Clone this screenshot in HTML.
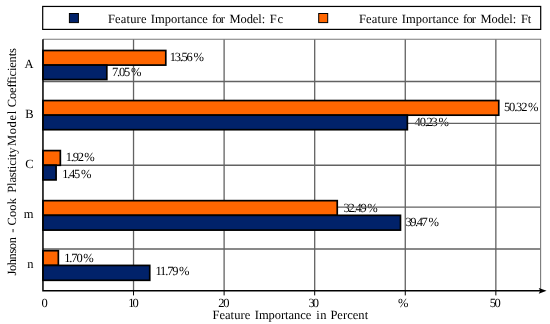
<!DOCTYPE html>
<html><head><meta charset="utf-8"><title>Feature Importance</title>
<style>html,body{margin:0;padding:0;background:#fff}</style></head>
<body>
<svg width="550" height="324" viewBox="0 0 550 324" style="display:block;font-family:'Liberation Serif',serif;font-size:12.5px" text-rendering="geometricPrecision">
<rect width="550" height="324" fill="#fff"/>
<text y="60.60"><tspan x="169.74" letter-spacing="-1.288">13.56</tspan><tspan x="193.52" textLength="10.49" lengthAdjust="spacingAndGlyphs">%</tspan></text>
<text y="75.90"><tspan x="111.89" letter-spacing="-1.175">7.05</tspan><tspan x="130.92" textLength="10.49" lengthAdjust="spacingAndGlyphs">%</tspan></text>
<text y="110.70"><tspan x="503.91" letter-spacing="-1.138">50.32</tspan><tspan x="527.92" textLength="10.49" lengthAdjust="spacingAndGlyphs">%</tspan></text>
<text y="125.60"><tspan x="414.61" letter-spacing="-1.225">40.23</tspan><tspan x="438.52" textLength="10.49" lengthAdjust="spacingAndGlyphs">%</tspan></text>
<text y="161.00"><tspan x="65.74" letter-spacing="-1.242">1.92</tspan><tspan x="84.32" textLength="10.49" lengthAdjust="spacingAndGlyphs">%</tspan></text>
<text y="177.60"><tspan x="62.34" letter-spacing="-1.325">1.45</tspan><tspan x="80.92" textLength="10.49" lengthAdjust="spacingAndGlyphs">%</tspan></text>
<text y="211.70"><tspan x="343.44" letter-spacing="-1.216">32.49</tspan><tspan x="367.32" textLength="10.49" lengthAdjust="spacingAndGlyphs">%</tspan></text>
<text y="226.20"><tspan x="405.44" letter-spacing="-1.462">39.47</tspan><tspan x="428.52" textLength="10.49" lengthAdjust="spacingAndGlyphs">%</tspan></text>
<text y="262.30"><tspan x="64.24" letter-spacing="-1.158">1.70</tspan><tspan x="83.32" textLength="10.49" lengthAdjust="spacingAndGlyphs">%</tspan></text>
<text y="275.00"><tspan x="155.44" letter-spacing="-1.150">11.79</tspan><tspan x="179.12" textLength="10.49" lengthAdjust="spacingAndGlyphs">%</tspan></text>
<line x1="133.53" y1="39.2" x2="133.53" y2="290.8" stroke="#626262" stroke-width="1.3"/>
<line x1="133.53" y1="290.8" x2="133.53" y2="295.40000000000003" stroke="#000" stroke-width="1"/>
<line x1="224.11" y1="39.2" x2="224.11" y2="290.8" stroke="#626262" stroke-width="1.3"/>
<line x1="224.11" y1="290.8" x2="224.11" y2="295.40000000000003" stroke="#000" stroke-width="1"/>
<line x1="314.69" y1="39.2" x2="314.69" y2="290.8" stroke="#626262" stroke-width="1.3"/>
<line x1="314.69" y1="290.8" x2="314.69" y2="295.40000000000003" stroke="#000" stroke-width="1"/>
<line x1="405.27" y1="39.2" x2="405.27" y2="290.8" stroke="#626262" stroke-width="1.3"/>
<line x1="405.27" y1="290.8" x2="405.27" y2="295.40000000000003" stroke="#000" stroke-width="1"/>
<line x1="495.85" y1="39.2" x2="495.85" y2="290.8" stroke="#626262" stroke-width="1.3"/>
<line x1="495.85" y1="290.8" x2="495.85" y2="295.40000000000003" stroke="#000" stroke-width="1"/>
<line x1="42.95" y1="81.50" x2="540.6" y2="81.50" stroke="#626262" stroke-width="1.3"/>
<line x1="42.95" y1="123.38" x2="540.6" y2="123.38" stroke="#626262" stroke-width="1.3"/>
<line x1="42.95" y1="165.25" x2="540.6" y2="165.25" stroke="#626262" stroke-width="1.3"/>
<line x1="42.95" y1="207.12" x2="540.6" y2="207.12" stroke="#626262" stroke-width="1.3"/>
<line x1="42.95" y1="249.00" x2="540.6" y2="249.00" stroke="#626262" stroke-width="1.3"/>
<path d="M42.95 39.2H540.6V290.8" fill="none" stroke="#7a7a7a" stroke-width="1.1"/>
<rect x="42.95" y="50.50" width="122.83" height="14.60" fill="#ff6600" stroke="#000" stroke-width="1.7"/>
<rect x="42.95" y="65.10" width="63.86" height="14.40" fill="#01226a" stroke="#000" stroke-width="1.7"/>
<text x="33.5" y="68.00" text-anchor="end">A</text>
<rect x="42.95" y="100.55" width="455.80" height="14.63" fill="#ff6600" stroke="#000" stroke-width="1.7"/>
<rect x="42.95" y="115.18" width="364.40" height="14.52" fill="#01226a" stroke="#000" stroke-width="1.7"/>
<text x="33.5" y="118.08" text-anchor="end">B</text>
<rect x="42.95" y="150.60" width="17.39" height="14.66" fill="#ff6600" stroke="#000" stroke-width="1.7"/>
<rect x="42.95" y="165.26" width="13.13" height="14.64" fill="#01226a" stroke="#000" stroke-width="1.7"/>
<text x="33.5" y="168.16" text-anchor="end">C</text>
<rect x="42.95" y="200.65" width="294.29" height="14.69" fill="#ff6600" stroke="#000" stroke-width="1.7"/>
<rect x="42.95" y="215.34" width="357.52" height="14.76" fill="#01226a" stroke="#000" stroke-width="1.7"/>
<text x="33.5" y="218.24" text-anchor="end">m</text>
<rect x="42.95" y="250.70" width="15.40" height="14.72" fill="#ff6600" stroke="#000" stroke-width="1.7"/>
<rect x="42.95" y="265.42" width="106.79" height="14.88" fill="#01226a" stroke="#000" stroke-width="1.7"/>
<text x="33.5" y="268.32" text-anchor="end">n</text>
<path d="M42.95 39.2V290.8H541" fill="none" stroke="#000" stroke-width="1.5" stroke-linejoin="miter"/>
<path d="M546.6 290.8L538.7 287.90000000000003L540.2 290.8L538.7 293.7Z" fill="#000"/>
<text y="307.40"><tspan x="41.56" letter-spacing="0.000">0</tspan></text>
<text y="307.40"><tspan x="128.24" letter-spacing="-1.900">10</tspan></text>
<text y="307.40"><tspan x="218.30" letter-spacing="-1.363">20</tspan></text>
<text y="307.40"><tspan x="308.44" letter-spacing="-1.900">30</tspan></text>
<text y="307.40"><tspan x="397.93" letter-spacing="0.000">%</tspan></text>
<text y="307.40"><tspan x="489.71" letter-spacing="-1.375">50</tspan></text>
<text y="319.20"><tspan x="212.39" letter-spacing="0.059">Feature</tspan> <tspan x="254.86" letter-spacing="-0.062">Importance</tspan> <tspan x="316.35" letter-spacing="0.315">in</tspan> <tspan x="330.39" letter-spacing="0.044">Percent</tspan></text>
<g transform="translate(15.8,0) rotate(-90)">
<text y="0.00"><tspan x="-275.45" letter-spacing="-0.440">Johnson</tspan> <tspan x="-232.84" letter-spacing="0.000">-</tspan> <tspan x="-225.50" letter-spacing="0.104">Cook</tspan> <tspan x="-192.71" letter-spacing="-0.157">Plasticity</tspan> <tspan x="-146.01" letter-spacing="0.625">Model</tspan> <tspan x="-107.20" letter-spacing="-0.167">Coefficients</tspan></text>
</g>
<rect x="42.7" y="6.45" width="498.0" height="22.95" fill="#fff" stroke="#000" stroke-width="1.2"/>
<rect x="69.4" y="13.5" width="9.0" height="9.1" fill="#01226a" stroke="#000" stroke-width="1"/>
<rect x="318.7" y="13.5" width="9.0" height="9.1" fill="#ff6600" stroke="#000" stroke-width="1"/>
<text y="23.10"><tspan x="107.89" letter-spacing="0.184">Feature</tspan> <tspan x="150.81" letter-spacing="0.016">Importance</tspan> <tspan x="212.08" letter-spacing="-0.850">for</tspan> <tspan x="229.44" letter-spacing="-0.075">Model:</tspan> <tspan x="269.79" letter-spacing="0.673">Fc</tspan></text>
<text y="23.10"><tspan x="358.89" letter-spacing="0.184">Feature</tspan> <tspan x="401.81" letter-spacing="0.016">Importance</tspan> <tspan x="463.07" letter-spacing="-0.850">for</tspan> <tspan x="480.44" letter-spacing="-0.075">Model:</tspan> <tspan x="521.09" letter-spacing="-0.377">Ft</tspan></text>
</svg>
</body></html>
